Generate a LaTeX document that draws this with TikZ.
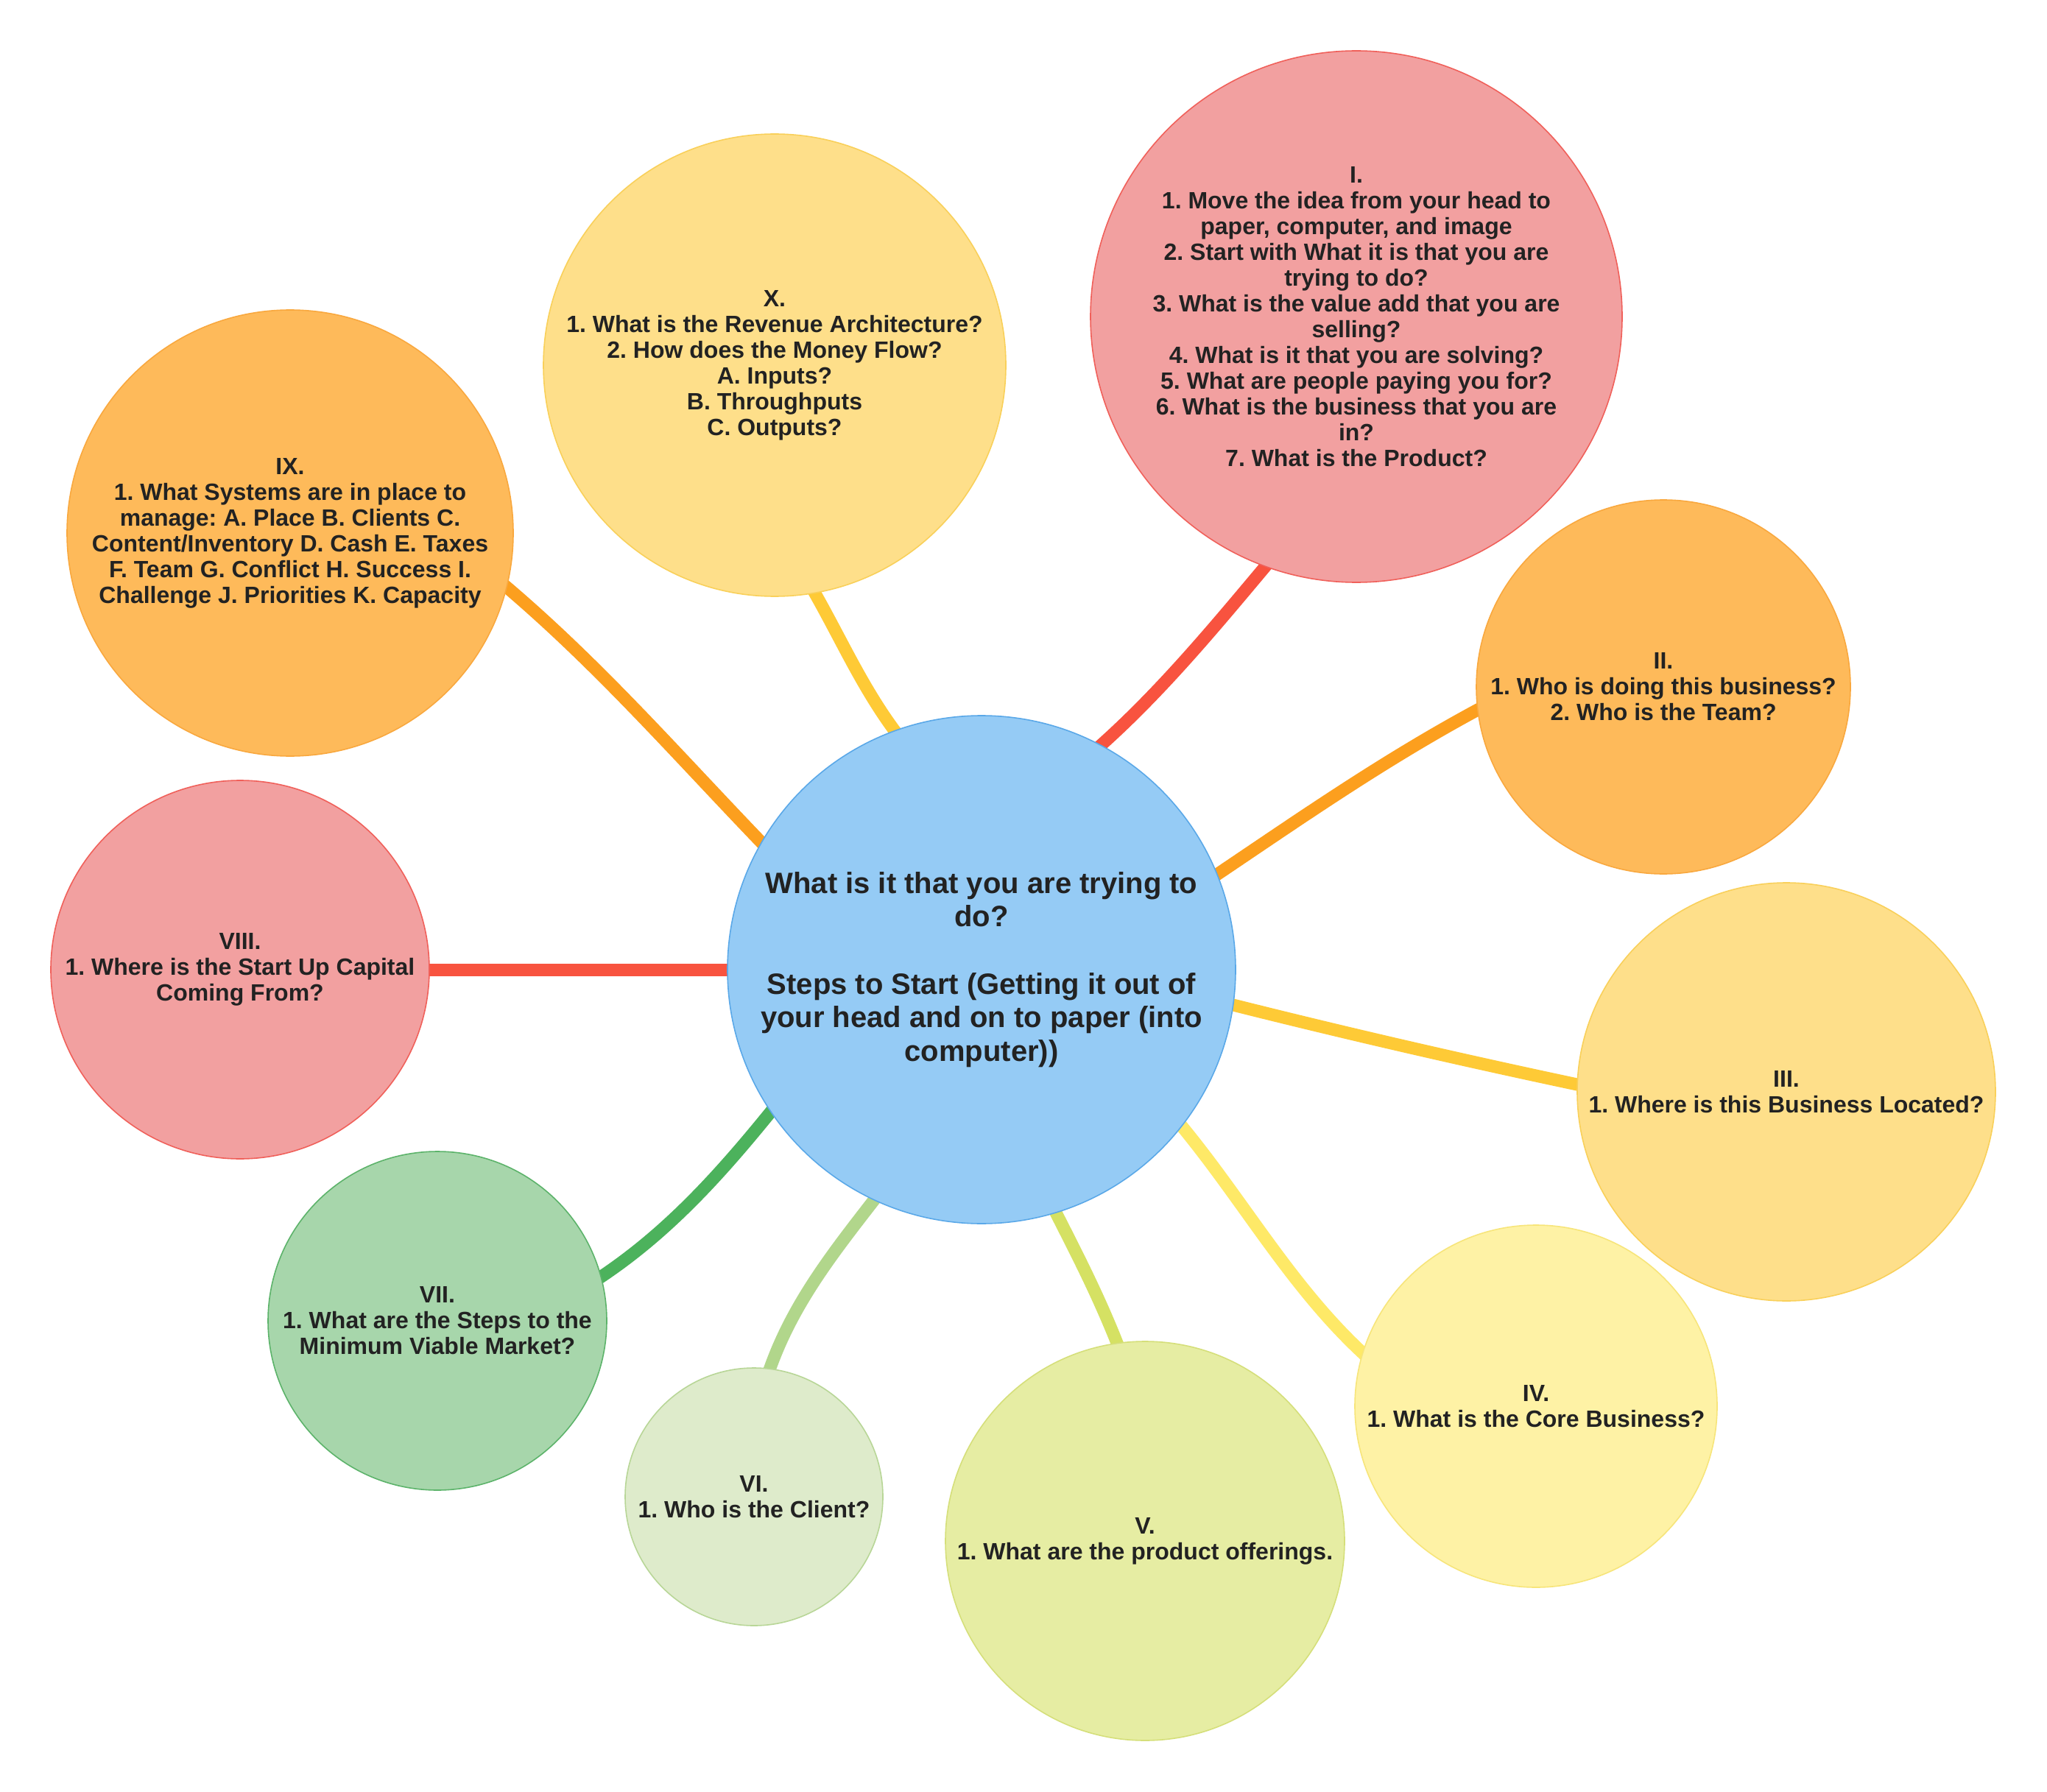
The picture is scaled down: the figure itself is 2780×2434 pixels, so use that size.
\documentclass[tikz,border=0pt]{standalone}
\usepackage{fontspec}
\setmainfont{Liberation Sans}
\usetikzlibrary{backgrounds}
\frenchspacing
\definecolor{txtc}{HTML}{222222}
\definecolor{cfill}{HTML}{95CBF5}\definecolor{cdraw}{HTML}{5AA8E8}
\definecolor{redfill}{HTML}{F2A0A0}\definecolor{reddraw}{HTML}{F0605A}
\definecolor{orfill}{HTML}{FEBA5A}\definecolor{ordraw}{HTML}{F9A83E}
\definecolor{amfill}{HTML}{FEDF8A}\definecolor{amdraw}{HTML}{F9D05A}
\definecolor{yefill}{HTML}{FEF2A5}\definecolor{yedraw}{HTML}{F7E57A}
\definecolor{lifill}{HTML}{E6EDA3}\definecolor{lidraw}{HTML}{D5DF7A}
\definecolor{lgfill}{HTML}{DEEBCB}\definecolor{lgdraw}{HTML}{B8D697}
\definecolor{grfill}{HTML}{A7D6AB}\definecolor{grdraw}{HTML}{5CB36A}
\definecolor{ered}{HTML}{F8533F}
\definecolor{eorange}{HTML}{FC9F1E}
\definecolor{eamber}{HTML}{FECA36}
\definecolor{eyellow}{HTML}{FEE967}
\definecolor{elime}{HTML}{D5E163}
\definecolor{elgreen}{HTML}{B1D68B}
\definecolor{egreen}{HTML}{4CB25C}
\begin{document}
\begin{tikzpicture}[x=0.5pt,y=-0.5pt,
  bub/.style={circle,inner sep=0pt,outer sep=0pt,line width=0.8pt,minimum size=#1},
  txt/.style={align=center,text=txtc,inner sep=0pt,font=\bfseries\fontsize{16}{17.5}\selectfont},
  bigtxt/.style={align=center,text=txtc,inner sep=0pt,font=\bfseries\fontsize{20}{22.8}\selectfont},
  conn/.style={line width=8.5pt,shorten <=-6pt,shorten >=-6pt}]
\useasboundingbox (0,0) rectangle (2780,2434);
% circles
\node[bub=345pt,fill=cfill,draw=cdraw] (C) at (1333,1317) {};
\node[bub=361pt,fill=redfill,draw=reddraw] (I) at (1842,430) {};
\node[bub=254pt,fill=orfill,draw=ordraw] (II) at (2259,933) {};
\node[bub=284pt,fill=amfill,draw=amdraw] (III) at (2426,1483) {};
\node[bub=246pt,fill=yefill,draw=yedraw] (IV) at (2086,1910) {};
\node[bub=271pt,fill=lifill,draw=lidraw] (V) at (1555,2093) {};
\node[bub=175pt,fill=lgfill,draw=lgdraw] (VI) at (1024,2033) {};
\node[bub=230pt,fill=grfill,draw=grdraw] (VII) at (594,1794) {};
\node[bub=257pt,fill=redfill,draw=reddraw] (VIII) at (326,1317) {};
\node[bub=303pt,fill=orfill,draw=ordraw] (IX) at (394,724) {};
\node[bub=314pt,fill=amfill,draw=amdraw] (X) at (1052,496) {};
% texts
\node[bigtxt] (Ct) at (C.center) {What is it that you are trying to\\do?\\[22.8pt]Steps to Start (Getting it out of\\your head and on to paper (into\\computer))};
\node[txt] (It) at (I.center) {I.\\1. Move the idea from your head to\\paper, computer, and image\\2. Start with What it is that you are\\trying to do?\\3. What is the value add that you are\\selling?\\4. What is it that you are solving?\\5. What are people paying you for?\\6. What is the business that you are\\in?\\7. What is the Product?};
\node[txt] (IIt) at (II.center) {II.\\1. Who is doing this business?\\2. Who is the Team?};
\node[txt] (IIIt) at (III.center) {III.\\1. Where is this Business Located?};
\node[txt] (IVt) at (IV.center) {IV.\\1. What is the Core Business?};
\node[txt] (Vt) at (V.center) {V.\\1. What are the product offerings.};
\node[txt] (VIt) at (VI.center) {VI.\\1. Who is the Client?};
\node[txt] (VIIt) at (VII.center) {VII.\\1. What are the Steps to the\\Minimum Viable Market?};
\node[txt] (VIIIt) at (VIII.center) {VIII.\\1. Where is the Start Up Capital\\Coming From?};
\node[txt] (IXt) at (IX.center) {IX.\\1. What Systems are in place to\\manage: A. Place B. Clients C.\\Content/Inventory D. Cash E. Taxes\\F. Team G. Conflict H. Success I.\\Challenge J. Priorities K. Capacity};
\node[txt] (Xt) at (X.center) {X.\\1. What is the Revenue Architecture?\\2. How does the Money Flow?\\A. Inputs?\\B. Throughputs\\C. Outputs?};
% connectors
\begin{scope}[on background layer]
\fill[white] (0,0) rectangle (2780,2434);
\draw[conn,ered] (C.62) .. controls +(80,-70) and +(-68,81) .. (I.250);
\draw[conn,eorange] (C.22) .. controls +(116,-78) and +(-124,66) .. (II.187);
\draw[conn,eamber] (C.352) .. controls +(155,39) and +(-156,-33) .. (III.178);
\draw[conn,eyellow] (C.322) .. controls +(84,100) and +(-97,-87) .. (IV.163);
\draw[conn,elime] (C.287) .. controls +(30,59) and +(-24,-62) .. (V.98);
\draw[conn,elgreen] (C.245) .. controls +(-55,71) and +(28,-86) .. (VI.83);
\draw[conn,egreen] (C.214) .. controls +(-67,83) and +(90,-58) .. (VII.15);
\draw[conn,ered] (C.180) -- (VIII.0);
\draw[conn,eorange] (C.150) .. controls +(-113,-117) and +(125,105) .. (IX.346);
\draw[conn,eamber] (C.110) .. controls +(-44,-57) and +(36,62) .. (X.280);
\end{scope}
\end{tikzpicture}
\end{document}
